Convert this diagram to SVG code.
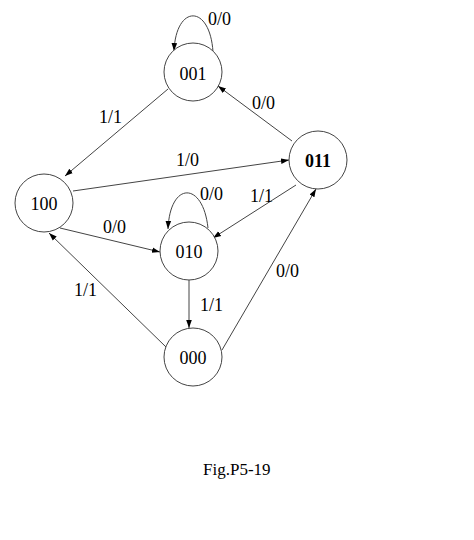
<svg xmlns="http://www.w3.org/2000/svg" width="474" height="540" viewBox="0 0 474 540">
<style>
.st circle{fill:#fff;stroke:#444;stroke-width:1}
text{font-family:"Liberation Serif","Times New Roman",serif;font-size:18px;fill:#000}
.st text{text-anchor:middle}
.e{fill:none;stroke:#444;stroke-width:1;marker-end:url(#ah)}
</style>
<defs>
<marker id="ah" viewBox="0 0 10 10" refX="10" refY="5" markerWidth="8" markerHeight="8" markerUnits="userSpaceOnUse" orient="auto">
<path d="M0,1.5 L10,5 L0,8.5 Z" fill="#000"/>
</marker>
</defs>
<rect width="474" height="540" fill="#fff"/>
<g id="connectors">
<path class="e" d="M213,52 C210,4 176,4 174,51"/>
<path class="e" d="M292,141 L218,86"/>
<path class="e" d="M168,89 L65,176"/>
<path class="e" d="M73,191 L289,160"/>
<path class="e" d="M60,228 L160,252"/>
<path class="e" d="M208,228 C203,181 170,181 168,229"/>
<path class="e" d="M296,185 L213,238"/>
<path class="e" d="M222,350 L316,189"/>
<path class="e" d="M166,347 L49,233"/>
<path class="e" d="M189,279 L189,328"/>
</g>
<g id="labels">
<text x="208" y="25">0/0</text>
<text x="252" y="109">0/0</text>
<text x="99" y="123">1/1</text>
<text x="176" y="166">1/0</text>
<text x="103" y="233">0/0</text>
<text x="200" y="200">0/0</text>
<text x="250" y="202">1/1</text>
<text x="276" y="277">0/0</text>
<text x="74" y="296">1/1</text>
<text x="200" y="311">1/1</text>
</g>
<g id="n001" class="st"><circle cx="193" cy="72" r="29"/><text x="193" y="80">001</text></g>
<g id="n100" class="st"><circle cx="44" cy="203" r="29"/><text x="44" y="210">100</text></g>
<g id="n011" class="st"><circle cx="318" cy="160" r="29"/><text x="318" y="167" font-weight="bold">011</text></g>
<g id="n010" class="st"><circle cx="189" cy="251" r="29"/><text x="189" y="258">010</text></g>
<g id="n000" class="st"><circle cx="193" cy="357" r="29"/><text x="193" y="364">000</text></g>
<text x="203" y="475" style="font-size:17px">Fig.P5-19</text>
</svg>
